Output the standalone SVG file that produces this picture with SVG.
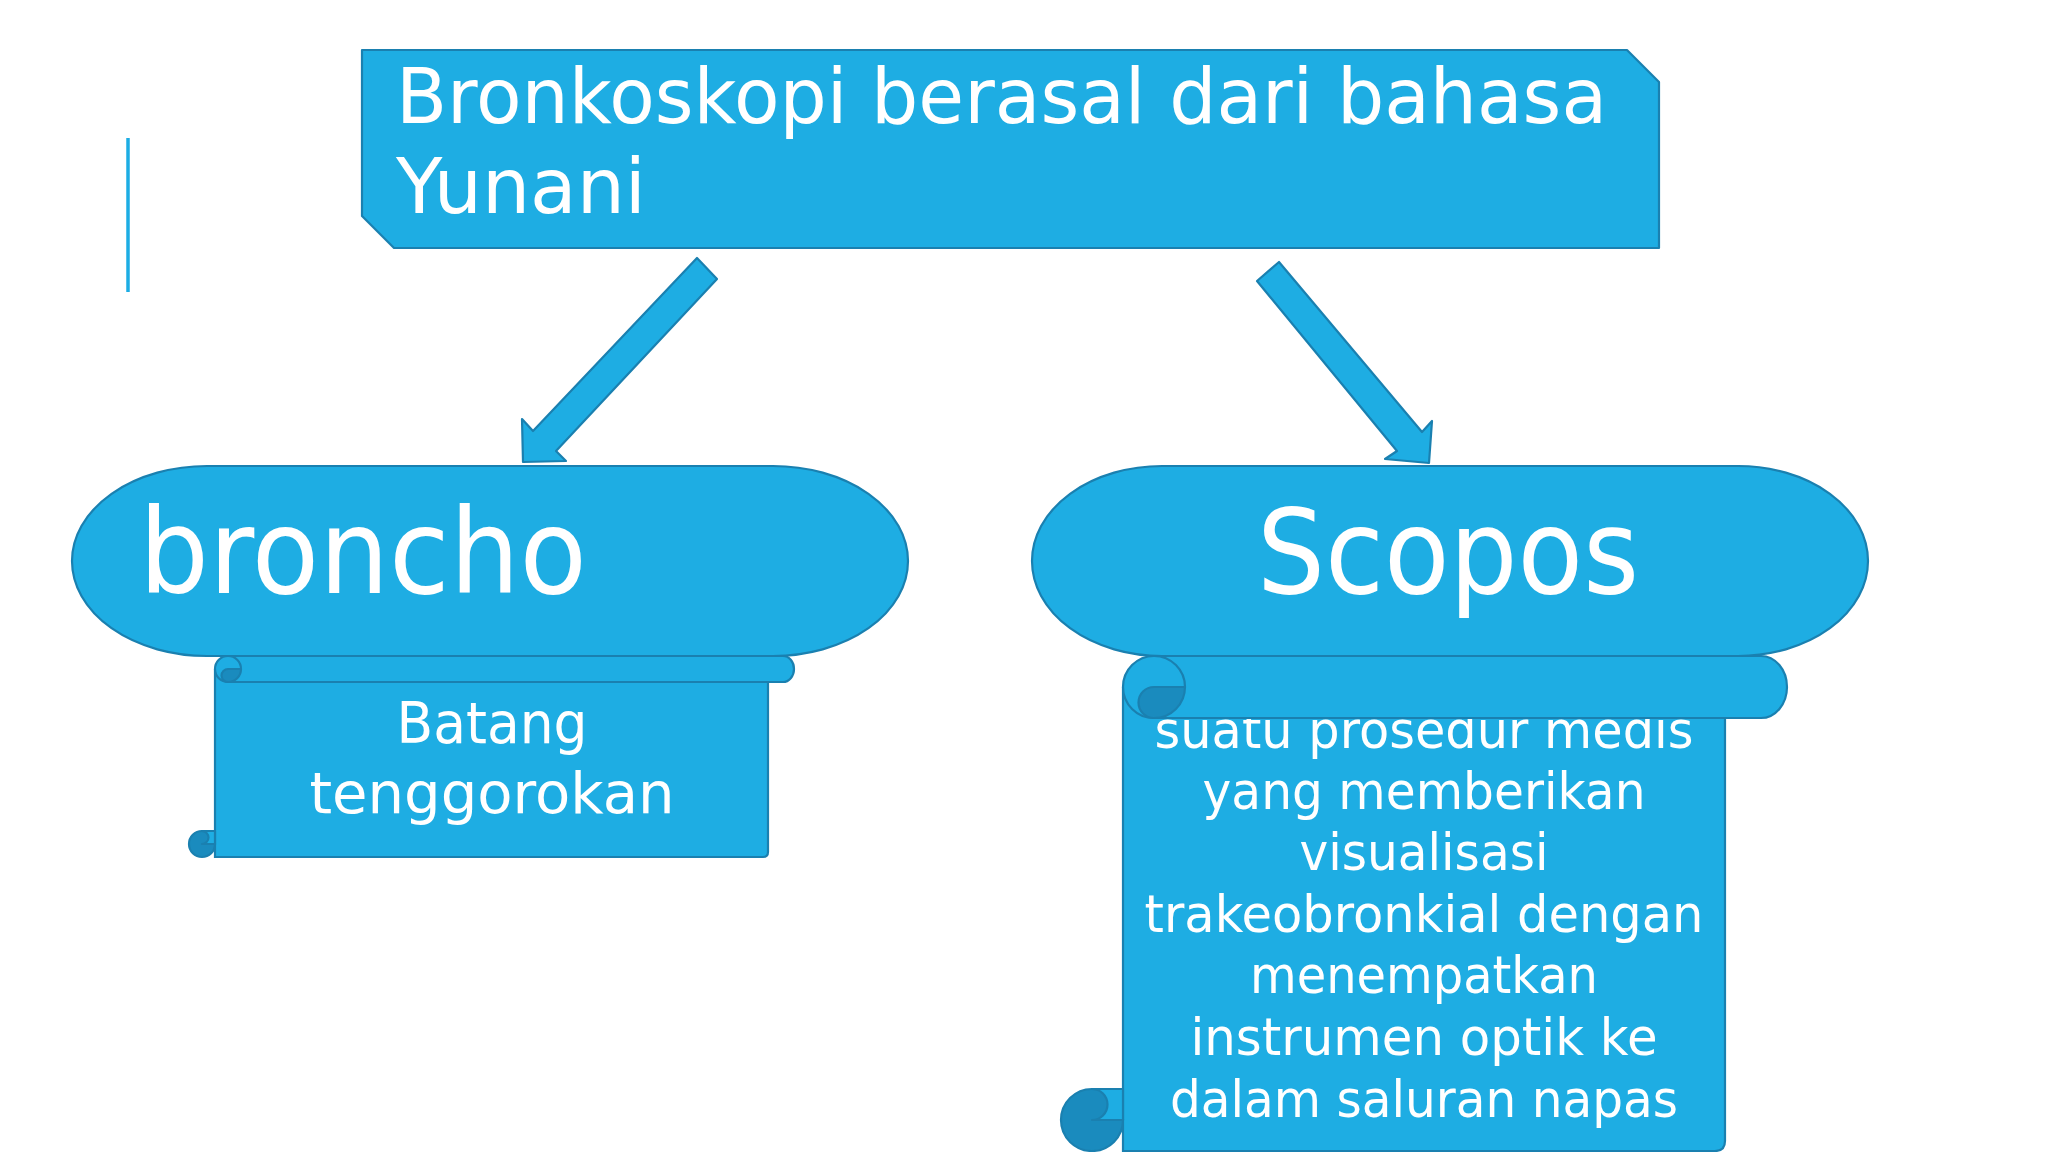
<svg xmlns="http://www.w3.org/2000/svg" width="2048" height="1152" viewBox="0 0 2048 1152">
<style>
.shape{fill:#1EADE3;stroke:#1A80B0;stroke-width:2.2;stroke-linejoin:round}
.dark{fill:#1A8BBE;stroke:#1A80B0;stroke-width:2.2;stroke-linejoin:round}
.line{fill:none;stroke:#1A80B0;stroke-width:2.2}
.t{fill:#FFFFFF;font-family:"DejaVu Sans","Open Sans",sans-serif}
</style>
<rect x="0" y="0" width="2048" height="1152" fill="#FFFFFF"/>
<line x1="128" y1="138" x2="128" y2="292" stroke="#1CADE4" stroke-width="3.5"/>

<g id="title">
<path class="shape" d="M362,50 L1627,50 L1659,82 L1659,248 L394,248 L362,216 Z"/>
<text class="t" font-size="77" x="396" y="123" textLength="1211" lengthAdjust="spacingAndGlyphs">Bronkoskopi berasal dari bahasa</text>
<text class="t" font-size="77" x="396" y="213" textLength="250" lengthAdjust="spacingAndGlyphs">Yunani</text>
</g>

<g id="connectors">
<polygon class="shape" points="697,258 717,279 556,451 566,461 523,462 522,419 533,431"/>
<polygon class="shape" points="1257,281 1279,262 1422,432 1432,421 1429,463 1385,459 1397,451"/>
</g>

<g id="scroll-left">
<path class="shape" d="M215,669 L768,669 L768,852 Q768,857 763,857 L215,857 Z" style="stroke:none"/>
<path class="line" d="M215,669 L215,857 L763,857 Q768,857 768,852 L768,682"/>
<circle class="dark" cx="202" cy="844" r="13"/>
<path class="shape" d="M202,831 L215,831 L215,844 L202,844 A6.5,6.5 0 0 0 202,831 Z"/>
<path class="shape" d="M228,656 L783,656 A11,13 0 0 1 783,682 L228,682 A13,13 0 0 1 228,656 Z"/>
<path class="dark" d="M228,669 L241,669 A13,13 0 0 1 228,682 A6.5,6.5 0 0 1 228,669 Z"/>
<path class="line" d="M228,656 A13,13 0 0 1 241,669"/>
<text class="t" font-size="57" x="492" y="743" text-anchor="middle" textLength="191" lengthAdjust="spacingAndGlyphs">Batang</text>
<text class="t" font-size="57" x="492" y="813" text-anchor="middle" textLength="365" lengthAdjust="spacingAndGlyphs">tenggorokan</text>
</g>

<g id="scroll-right">
<path class="shape" d="M1123,687 L1725,687 L1725,1141 Q1725,1151 1715,1151 L1123,1151 Z" style="stroke:none"/>
<path class="line" d="M1123,687 L1123,1151 L1715,1151 Q1725,1151 1725,1141 L1725,718"/>
<g class="t" font-size="52" text-anchor="middle">
<text x="1424" y="748" textLength="539" lengthAdjust="spacingAndGlyphs">suatu prosedur medis</text>
<text x="1424" y="809" textLength="443" lengthAdjust="spacingAndGlyphs">yang memberikan</text>
<text x="1424" y="870" textLength="249" lengthAdjust="spacingAndGlyphs">visualisasi</text>
<text x="1424" y="932" textLength="559" lengthAdjust="spacingAndGlyphs">trakeobronkial dengan</text>
<text x="1424" y="993" textLength="348" lengthAdjust="spacingAndGlyphs">menempatkan</text>
<text x="1424" y="1055" textLength="467" lengthAdjust="spacingAndGlyphs">instrumen optik ke</text>
<text x="1424" y="1117" textLength="508" lengthAdjust="spacingAndGlyphs">dalam saluran napas</text>
</g>
<circle class="dark" cx="1092" cy="1120" r="31"/>
<path class="shape" d="M1092,1089 L1123,1089 L1123,1120 L1092,1120 A15.5,15.5 0 0 0 1092,1089 Z"/>
<path class="shape" d="M1154,656 L1761,656 A26,31 0 0 1 1761,718 L1154,718 A31,31 0 0 1 1154,656 Z"/>
<path class="dark" d="M1154,687 L1185,687 A31,31 0 0 1 1154,718 A15.5,15.5 0 0 1 1154,687 Z"/>
<path class="line" d="M1154,656 A31,31 0 0 1 1185,687"/>
</g>

<g id="broncho">
<rect class="shape" x="72" y="466" width="836" height="190" rx="135" ry="95"/>
<text class="t" font-size="118" x="139" y="593" textLength="448" lengthAdjust="spacingAndGlyphs">broncho</text>
</g>

<g id="scopos">
<rect class="shape" x="1032" y="466" width="836" height="190" rx="130" ry="95"/>
<text class="t" font-size="118" x="1448" y="593" text-anchor="middle" textLength="382" lengthAdjust="spacingAndGlyphs">Scopos</text>
</g>
</svg>
